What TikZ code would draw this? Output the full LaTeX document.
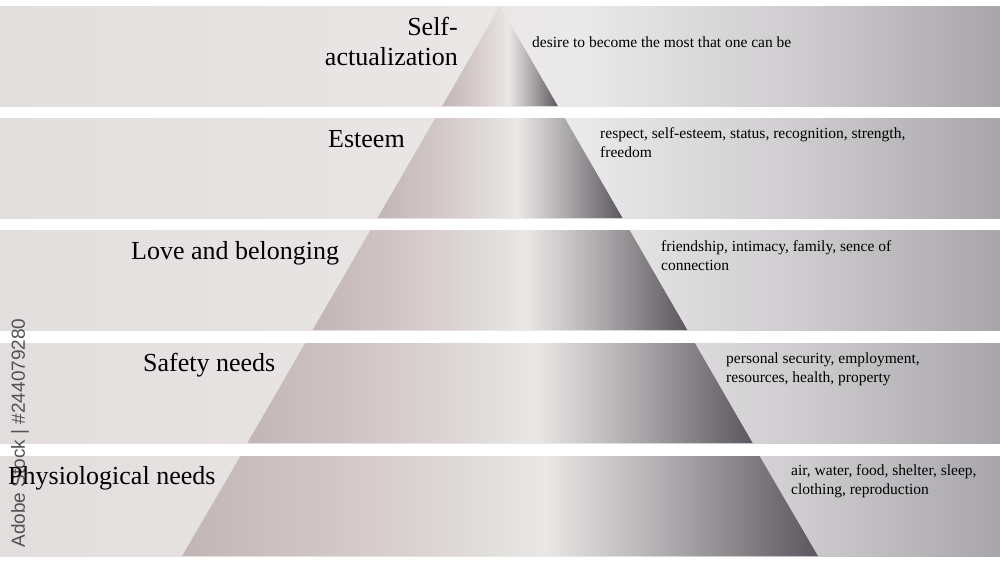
\documentclass[tikz,border=0pt]{standalone}
\usepackage{fontspec}
\setmainfont{Liberation Serif}
\newfontfamily\wmfont{Liberation Sans}
\pgfdeclarehorizontalshading{bandshade}{100bp}{rgb(0bp)=(0.89,0.87,0.87); rgb(25bp)=(0.89,0.87,0.87); rgb(47.5bp)=(0.92,0.90,0.90); rgb(54bp)=(0.915,0.915,0.915); rgb(65bp)=(0.81,0.80,0.81); rgb(75bp)=(0.66,0.65,0.67); rgb(100bp)=(0.66,0.65,0.67)}
\pgfdeclarehorizontalshading{pyrshade}{100bp}{rgb(0bp)=(0.76,0.71,0.71); rgb(25bp)=(0.76,0.71,0.71); rgb(40bp)=(0.84,0.80,0.80); rgb(49bp)=(0.88,0.87,0.86); rgb(53.5bp)=(0.915,0.91,0.90); rgb(57.5bp)=(0.82,0.81,0.81); rgb(64bp)=(0.66,0.65,0.66); rgb(70bp)=(0.50,0.48,0.50); rgb(75bp)=(0.36,0.34,0.37); rgb(100bp)=(0.36,0.34,0.37)}
\begin{document}
\begin{tikzpicture}[x=1pt,y=-1pt,
  band/.style={shading=bandshade},
  pyr/.style={shading=pyrshade},
  title/.style={font=\fontsize{26}{30}\selectfont, inner sep=0pt},
  desc/.style={font=\fontsize{15.5}{18.5}\selectfont, inner sep=0pt, align=left, anchor=base west},
  wmark/.style={font=\wmfont\fontsize{19}{19}\selectfont, text=black!68, inner sep=0pt, rotate=90}]
\fill[white] (0,0) rectangle (1000,563);
\useasboundingbox (0,0) rectangle (1000,563);
% bands
\shade[band] (0,6) rectangle (1000,106);
\shade[band] (0,118) rectangle (1000,218);
\shade[band] (0,230) rectangle (1000,330);
\shade[band] (0,343) rectangle (1000,443);
\shade[band] (0,456) rectangle (1000,556);
% pyramid pieces
\shade[pyr] (500,6) -- (557.8,106) -- (442.2,106) -- cycle;
\shade[pyr] (435.3,118) -- (564.7,118) -- (622.5,218) -- (377.5,218) -- cycle;
\shade[pyr] (370.5,230) -- (629.5,230) -- (687.3,330) -- (312.7,330) -- cycle;
\shade[pyr] (305.2,343) -- (694.8,343) -- (752.6,443) -- (247.4,443) -- cycle;
\shade[pyr] (240.5,456) -- (759.5,456) -- (817.9,556) -- (182.1,556) -- cycle;
% watermark id
\node[wmark] (wm) at (20,433) {Adobe Stock | \#244079280};
% titles (multi-line nodes: base = last line)
\node[title, anchor=base east, align=right] (t1) at (458,65) {Self-\\actualization};
\node[title, anchor=base west] (t2) at (328,147) {Esteem};
\node[title, anchor=base west] (t3) at (131,259) {Love and belonging};
\node[title, anchor=base west] (t4) at (143,371) {Safety needs};
\node[title, anchor=base west] (t5) at (8,484) {Physiological needs};
% descriptions
\node[desc] (d1) at (532,47) {desire to become the most that one can be};
\node[desc] (d2) at (600,157) {respect, self-esteem, status, recognition, strength,\\freedom};
\node[desc] (d3) at (661,270) {friendship, intimacy, family, sence of\\connection};
\node[desc] (d4) at (726,382) {personal security, employment,\\resources, health, property};
\node[desc] (d5) at (791,494) {air, water, food, shelter, sleep,\\clothing, reproduction};
\end{tikzpicture}
\end{document}
